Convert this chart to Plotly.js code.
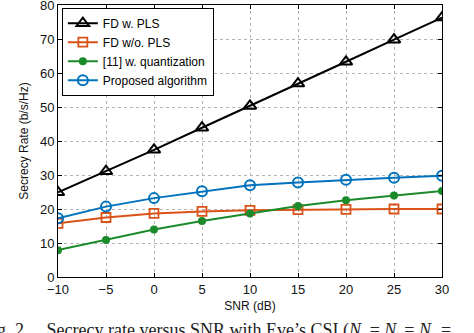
<!DOCTYPE html>
<html>
<head>
<meta charset="utf-8">
<script src="https://cdn.plot.ly/plotly-3.0.1.min.js"></script>
<style>html,body{margin:0;padding:0;background:#fff;}#chart{width:474px;height:333px;}</style>
</head>
<body>
<div id="chart"></div>
<script>
const snr = [-10, -5, 0, 5, 10, 15, 20, 25, 30];
const fdWithPLS = [24.9, 31.1, 37.4, 43.9, 50.3, 56.9, 63.3, 69.8, 76.3];
const fdWithoutPLS = [15.8, 17.5, 18.7, 19.3, 19.6, 19.8, 19.9, 20.0, 20.0];
const ref11Quant = [7.9, 10.9, 14.0, 16.5, 18.7, 20.9, 22.6, 24.0, 25.3];
const proposed = [17.3, 20.7, 23.2, 25.2, 27.0, 27.8, 28.6, 29.2, 29.8];
const names = ['FD w. PLS', 'FD w/o. PLS', '[11] w. quantization', 'Proposed algorithm'];
const yTicks = [0, 10, 20, 30, 40, 50, 60, 70, 80];
const xTicks = [-10, -5, 0, 5, 10, 15, 20, 25, 30];
const xTickText = ['\u221210', '\u22125', '0', '5', '10', '15', '20', '25', '30'];

const traces = [
  {x: snr, y: fdWithPLS, name: names[0], mode: 'lines+markers',
   line: {color: '#000000', width: 2},
   marker: {symbol: 'triangle-up-open', size: 11, color: '#000000', line: {width: 2}}},
  {x: snr, y: fdWithoutPLS, name: names[1], mode: 'lines+markers',
   line: {color: '#D95319', width: 2},
   marker: {symbol: 'square-open', size: 9, color: '#D95319', line: {width: 1.8}}},
  {x: snr, y: ref11Quant, name: names[2], mode: 'lines+markers',
   line: {color: '#1B8A2A', width: 2},
   marker: {symbol: 'circle', size: 8, color: '#1B8A2A'}},
  {x: snr, y: proposed, name: names[3], mode: 'lines+markers',
   line: {color: '#0072BD', width: 2},
   marker: {symbol: 'circle-open', size: 10, color: '#0072BD', line: {width: 2}}}
];

const axisCommon = {
  showline: true, mirror: 'ticks', linecolor: '#000', linewidth: 1,
  ticks: 'inside', ticklen: 4, tickcolor: '#000',
  showgrid: true, gridcolor: '#b5b5b5', griddash: 'dot', gridwidth: 1,
  zeroline: false, ticklabeloverflow: 'allow',
  tickfont: {family: 'Liberation Sans, Arial, sans-serif', size: 13, color: '#111'}
};

const layout = {
  width: 474, height: 333,
  margin: {l: 58, r: 32, t: 5, b: 56},
  paper_bgcolor: '#fff', plot_bgcolor: '#fff',
  showlegend: true,
  legend: {x: 0.01, y: 0.99, xanchor: 'left', yanchor: 'top',
    bgcolor: '#fff', bordercolor: '#000', borderwidth: 1,
    font: {family: 'Liberation Sans, Arial, sans-serif', size: 12, color: '#000'},
    tracegroupgap: 0, itemwidth: 30},
  xaxis: Object.assign({}, axisCommon, {
    range: [-10, 30], tickmode: 'array', tickvals: xTicks, ticktext: xTickText,
    title: {text: 'SNR (dB)', standoff: 6,
      font: {family: 'Liberation Sans, Arial, sans-serif', size: 12, color: '#111'}}
  }),
  yaxis: Object.assign({}, axisCommon, {
    range: [0, 80], tickmode: 'array', tickvals: yTicks,
    title: {text: 'Secrecy Rate (b/s/Hz)', standoff: 8,
      font: {family: 'Liberation Sans, Arial, sans-serif', size: 12, color: '#111'}}
  }),
  annotations: [{
    xref: 'paper', yref: 'paper', x: -0.203, y: -0.149, xanchor: 'left', yanchor: 'top',
    showarrow: false, align: 'left',
    text: 'Fig.&nbsp;2.&nbsp;&nbsp;&nbsp;&nbsp;Secrecy rate versus SNR with Eve\u2019s CSI (<i>N</i><sub>r</sub> = <i>N</i><sub>t</sub> = <i>N</i><sub>e</sub> =',
    font: {family: 'Liberation Serif, Times New Roman, serif', size: 18, color: '#222'}
  }]
};

Plotly.newPlot('chart', traces, layout, {displayModeBar: false, staticPlot: true});
</script>
</body>
</html>
